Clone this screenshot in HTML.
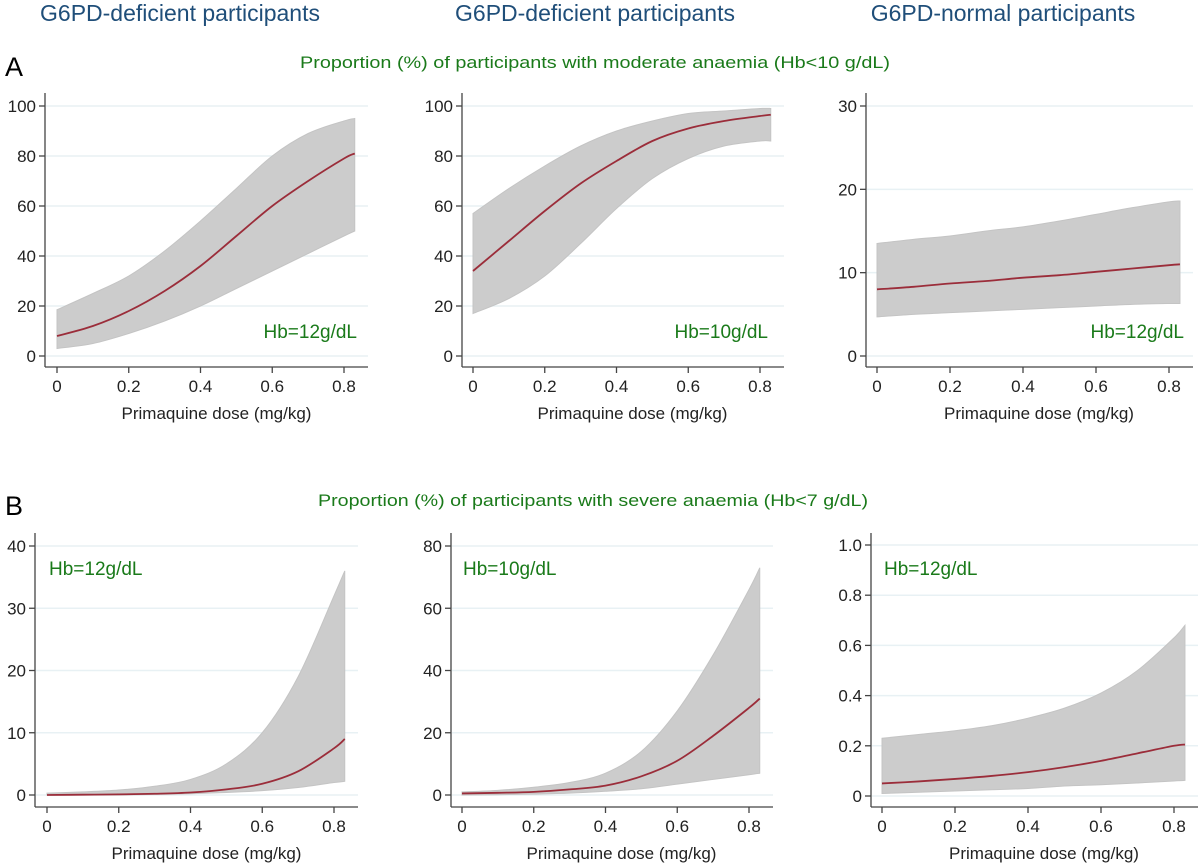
<!DOCTYPE html>
<html><head><meta charset="utf-8"><style>
body{margin:0;background:#fff}
svg{display:block;font-family:"Liberation Sans",Arial,sans-serif}
</style></head><body>
<svg id="chart" width="1200" height="867" viewBox="0 0 1200 867">
<g font-size="23" fill="#1f4e79">
<text x="180" y="21" text-anchor="middle">G6PD-deficient participants</text>
<text x="595" y="21" text-anchor="middle">G6PD-deficient participants</text>
<text x="1003" y="21" text-anchor="middle">G6PD-normal participants</text>
</g>
<text x="5" y="76" font-size="27" fill="#000">A</text>
<text x="5" y="515" font-size="27" fill="#000">B</text>
<text x="300" y="68" font-size="17" fill="#1a7a1a" textLength="590" lengthAdjust="spacingAndGlyphs">Proportion (%) of participants with moderate anaemia (Hb&lt;10 g/dL)</text>
<text x="318" y="506" font-size="17" fill="#1a7a1a" textLength="550" lengthAdjust="spacingAndGlyphs">Proportion (%) of participants with severe anaemia (Hb&lt;7 g/dL)</text>
</svg>
<script>
const doses=[0,0.1,0.2,0.3,0.4,0.5,0.6,0.7,0.8,0.83];
const xTicks=[0,0.2,0.4,0.6,0.8];
const xTickLabels=["0","0.2","0.4","0.6","0.8"];
const a1Mean=[8,12,18,26,36,48,60,70,79,81];
const a1Upper=[18.5,25,32,42,54,67,80,89,94,95];
const a1Lower=[3,5,9,14,20,27,34,41,48,50];
const a2Mean=[34,46,58,69,78,86,91,94,96,96.5];
const a2Upper=[57,67,76,84,90,94,97,98,99,99];
const a2Lower=[17,23,32,45,59,71,79,84,86,86];
const a3Mean=[8,8.3,8.7,9,9.4,9.7,10.1,10.5,10.9,11];
const a3Upper=[13.5,14,14.4,15,15.5,16.2,17,17.8,18.5,18.6];
const a3Lower=[4.7,5,5.2,5.4,5.6,5.8,6,6.2,6.3,6.3];
const b1Mean=[0,0.05,0.1,0.2,0.4,0.9,1.8,3.8,7.5,9];
const b1Upper=[0.3,0.5,0.8,1.4,2.5,5,10,19,32,36];
const b1Lower=[0,0,0,0.1,0.2,0.4,0.7,1.2,2,2.2];
const b2Mean=[0.5,0.7,1,1.8,3,6,11,19,28,31];
const b2Upper=[1,1.5,2.5,4,7,14,27,45,66,73];
const b2Lower=[0,0.1,0.3,0.6,1.2,2,3.5,5,6.5,7];
const b3Mean=[0.05,0.058,0.068,0.08,0.095,0.115,0.14,0.17,0.2,0.205];
const b3Upper=[0.23,0.245,0.26,0.28,0.31,0.35,0.41,0.5,0.63,0.68];
const b3Lower=[0.01,0.015,0.02,0.025,0.03,0.04,0.045,0.052,0.06,0.062];
const ticks100=[0,20,40,60,80,100], ticks30=[0,10,20,30], ticks40=[0,10,20,30,40], ticks80=[0,20,40,60,80], ticks1=[0,0.2,0.4,0.6,0.8,1.0];
const labels1=["0","0.2","0.4","0.6","0.8","1.0"];

const NS="http://www.w3.org/2000/svg";
const svg=document.getElementById('chart');
function mk(tag,attrs,parent){const e=document.createElementNS(NS,tag);for(const k in attrs)e.setAttribute(k,attrs[k]);parent.appendChild(e);return e;}
function smooth(pts){let d="M"+pts[0][0]+","+pts[0][1];for(let i=0;i<pts.length-1;i++){const p0=pts[Math.max(0,i-1)],p1=pts[i],p2=pts[i+1],p3=pts[Math.min(pts.length-1,i+2)];const c1=[p1[0]+(p2[0]-p0[0])/6,p1[1]+(p2[1]-p0[1])/6],c2=[p2[0]-(p3[0]-p1[0])/6,p2[1]-(p3[1]-p1[1])/6];d+=" C"+c1[0]+","+c1[1]+" "+c2[0]+","+c2[1]+" "+p2[0]+","+p2[1];}return d;}

const panels=[
 {id:'a1',ax:45,x0:57,x8:344,yt:106,y0:356,top:93,bot:367,ymax:100,yt_:ticks100,mean:a1Mean,up:a1Upper,lo:a1Lower,hb:"Hb=12g/dL",hx:357,hy:338,anchor:'end'},
 {id:'a2',ax:462,x0:473,x8:760,yt:106,y0:356,top:93,bot:367,ymax:100,yt_:ticks100,mean:a2Mean,up:a2Upper,lo:a2Lower,hb:"Hb=10g/dL",hx:768,hy:338,anchor:'end'},
 {id:'a3',ax:866,x0:877,x8:1169,yt:106,y0:356,top:93,bot:367,ymax:30,yt_:ticks30,mean:a3Mean,up:a3Upper,lo:a3Lower,hb:"Hb=12g/dL",hx:1184,hy:338,anchor:'end'},
 {id:'b1',ax:35,x0:47,x8:334,yt:546,y0:795,top:533,bot:807,ymax:40,yt_:ticks40,mean:b1Mean,up:b1Upper,lo:b1Lower,hb:"Hb=12g/dL",hx:49,hy:575,anchor:'start'},
 {id:'b2',ax:451,x0:462,x8:749,yt:546,y0:795,top:533,bot:807,ymax:80,yt_:ticks80,mean:b2Mean,up:b2Upper,lo:b2Lower,hb:"Hb=10g/dL",hx:463,hy:575,anchor:'start'},
 {id:'b3',ax:871,x0:882,x8:1174,yt:545,y0:796,top:533,bot:807,ymax:1,yt_:ticks1,ylab:labels1,mean:b3Mean,up:b3Upper,lo:b3Lower,hb:"Hb=12g/dL",hx:884,hy:575,anchor:'start'}
];
panels.forEach(p=>{
 const g=mk('g',{},svg);
 
 
 const X=v=>p.x0+(p.x8-p.x0)*v/0.8;
 const Y=v=>p.y0-(p.y0-p.yt)*v/p.ymax;
 const right=p.x8+24;
 p.yt_.forEach((t,i)=>{
  const gl=mk('line',{x1:p.ax+1,x2:right,y1:Y(t),y2:Y(t),stroke:'#e8f1f4','stroke-width':1.5},g);
  
  
  mk('line',{x1:p.ax-6,x2:p.ax,y1:Y(t),y2:Y(t),stroke:'#444','stroke-width':1.3},g);
  const tl=mk('text',{x:p.ax-9,y:Y(t)+6,'text-anchor':'end','font-size':17,fill:'#222'},g);
  tl.textContent=p.ylab?p.ylab[i]:String(t);
  
  
 });
 const upPts=doses.map((d,i)=>[X(d),Y(p.up[i])]);
 const loPts=doses.map((d,i)=>[X(d),Y(p.lo[i])]).reverse();
 const band=mk('path',{d:smooth(upPts)+" L"+loPts[0][0]+","+loPts[0][1]+smooth(loPts).replace(/^M[^ ]+/,"")+" Z",fill:'#cccccc',stroke:'#c4c4c4'},g);
 
 
 const ln=mk('path',{d:smooth(doses.map((d,i)=>[X(d),Y(p.mean[i])])),fill:'none',stroke:'#9b2d3a','stroke-width':1.8},g);
 
 
 mk('line',{x1:p.ax,x2:p.ax,y1:p.top,y2:p.bot,stroke:'#444','stroke-width':1.3},g);
 mk('line',{x1:p.ax,x2:right,y1:p.bot,y2:p.bot,stroke:'#444','stroke-width':1.3},g);
 xTicks.forEach((t,i)=>{
  mk('line',{x1:X(t),x2:X(t),y1:p.bot,y2:p.bot+6,stroke:'#444','stroke-width':1.3},g);
  const tl=mk('text',{x:X(t),y:p.bot+25,'text-anchor':'middle','font-size':17,fill:'#222'},g);
  tl.textContent=xTickLabels[i];
  
  
 });
 const xt=mk('text',{x:(p.x0+p.x8)/2+16,y:p.bot+52,'text-anchor':'middle','font-size':17,fill:'#222'},g);
 xt.textContent="Primaquine dose (mg/kg)";
 
 
 const hb=mk('text',{x:p.hx,y:p.hy,'text-anchor':p.anchor,'font-size':19,fill:'#1a7a1a'},g);
 hb.textContent=p.hb;
 
 
});
</script>
</body></html>
